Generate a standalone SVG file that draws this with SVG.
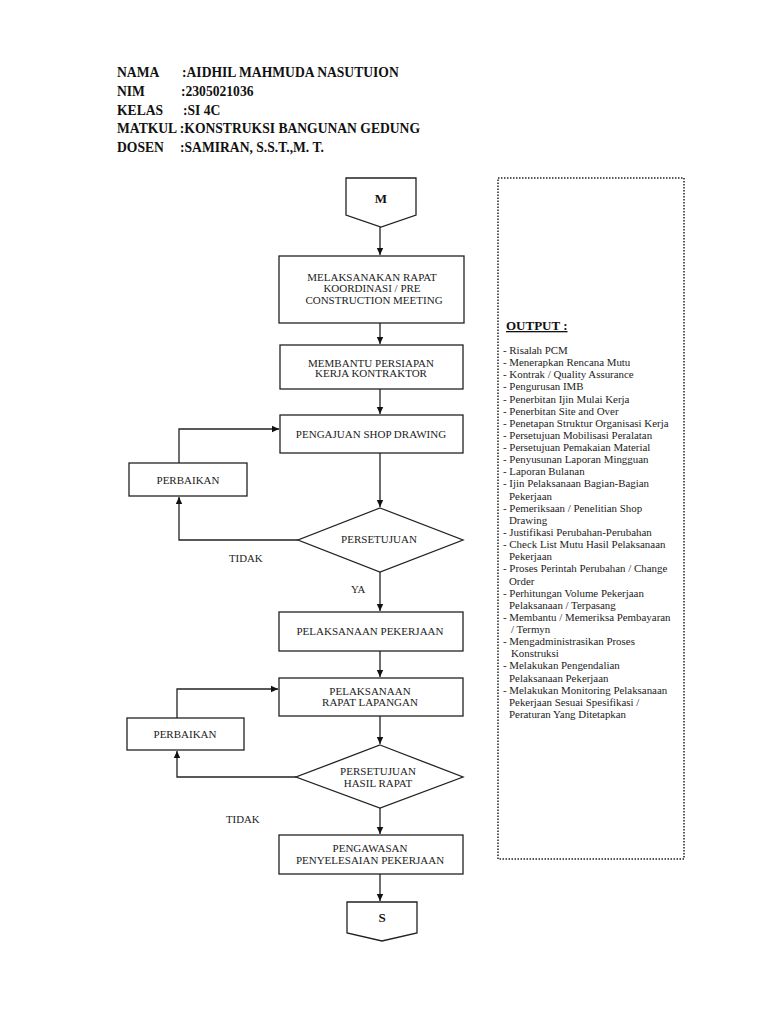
<svg xmlns="http://www.w3.org/2000/svg" width="768" height="1024" viewBox="0 0 768 1024">
<defs>
<marker id="ah" markerWidth="8" markerHeight="8" refX="7" refY="4" orient="auto" markerUnits="userSpaceOnUse">
<path d="M0,0.8 L7,4 L0,7.2 Z" fill="#111"/>
</marker>
<style>
.hd{font-family:"Liberation Serif",serif;font-weight:bold;font-size:13.6px;fill:#111}
.t{font-family:"Liberation Serif",serif;font-size:11px;fill:#222;text-anchor:middle}
.b{font-family:"Liberation Serif",serif;font-weight:bold;font-size:13px;fill:#111;text-anchor:middle}
.shape{fill:#fff;stroke:#222;stroke-width:1.3}
.con{fill:none;stroke:#222;stroke-width:1.3;marker-end:url(#ah)}
.lbl{font-family:"Liberation Serif",serif;font-size:10.8px;fill:#222}
.out{font-family:"Liberation Serif",serif;font-size:10.9px;fill:#222}
</style>
</defs>
<rect width="768" height="1024" fill="#fff"/>
<g id="header">
<text class="hd" x="117" y="77">NAMA</text><text class="hd" x="182" y="77">:AIDHIL MAHMUDA NASUTUION</text>
<text class="hd" x="117" y="96">NIM</text><text class="hd" x="181" y="96">:2305021036</text>
<text class="hd" x="117" y="115">KELAS</text><text class="hd" x="183" y="115">:SI 4C</text>
<text class="hd" x="117" y="133">MATKUL :KONSTRUKSI BANGUNAN GEDUNG</text>
<text class="hd" x="117" y="152">DOSEN</text><text class="hd" x="180" y="152">:SAMIRAN, S.S.T.,M. T.</text>
</g>
<g id="connectors">
<path class="con" d="M380,227 V255"/>
<path class="con" d="M380,323 V344"/>
<path class="con" d="M380,389 V414"/>
<path class="con" d="M380,453 V507"/>
<path class="con" d="M179,463 V429 H279"/>
<path class="con" d="M298,540 H179 V497"/>
<path class="con" d="M380,572 V611"/>
<path class="con" d="M380,651 V677"/>
<path class="con" d="M380,716 V744"/>
<path class="con" d="M177,718 V689 H278"/>
<path class="con" d="M296,777 H177 V751"/>
<path class="con" d="M380,808 V834"/>
<path class="con" d="M380,874 V901"/>
<text class="lbl" x="229" y="562">TIDAK</text>
<text class="lbl" x="351" y="593">YA</text>
<text class="lbl" x="226" y="823">TIDAK</text>
</g>
<g id="nodeM"><path class="shape" d="M346,178 H416 V215 L381,227 L346,215 Z"/><text class="b" x="381" y="203">M</text></g>
<g id="node1"><rect class="shape" x="279" y="256" width="185" height="67"/>
<text class="t" x="372" y="281">MELAKSANAKAN  RAPAT</text><text class="t" x="372" y="292">KOORDINASI / PRE</text><text class="t" x="374" y="304">CONSTRUCTION MEETING</text></g>
<g id="node2"><rect class="shape" x="280" y="345" width="183" height="44"/>
<text class="t" x="371" y="367">MEMBANTU PERSIAPAN</text><text class="t" x="371" y="377">KERJA KONTRAKTOR</text></g>
<g id="node3"><rect class="shape" x="280" y="415" width="183" height="38"/>
<text class="t" x="371" y="438">PENGAJUAN SHOP DRAWING</text></g>
<g id="perbaikan1"><rect class="shape" x="129" y="463" width="118" height="33"/>
<text class="t" x="188" y="484">PERBAIKAN</text></g>
<g id="decision1"><path class="shape" d="M380,508 L463,540 L380,572 L298,540 Z"/>
<text class="t" x="379" y="543">PERSETUJUAN</text></g>
<g id="node4"><rect class="shape" x="279" y="612" width="184" height="39"/>
<text class="t" x="370" y="635">PELAKSANAAN PEKERJAAN</text></g>
<g id="node5"><rect class="shape" x="279" y="678" width="184" height="38"/>
<text class="t" x="370" y="695">PELAKSANAAN</text><text class="t" x="370" y="706">RAPAT LAPANGAN</text></g>
<g id="perbaikan2"><rect class="shape" x="127" y="718" width="117" height="32"/>
<text class="t" x="185" y="738">PERBAIKAN</text></g>
<g id="decision2"><path class="shape" d="M380,745 L463,777 L380,808 L296,777 Z"/>
<text class="t" x="378" y="775">PERSETUJUAN</text><text class="t" x="378" y="787">HASIL RAPAT</text></g>
<g id="node6"><rect class="shape" x="279" y="835" width="184" height="39"/>
<text class="t" x="370" y="852">PENGAWASAN</text><text class="t" x="370" y="864">PENYELESAIAN PEKERJAAN</text></g>
<g id="nodeS"><path class="shape" d="M347,902 H417 V933 L382,941 L347,933 Z"/><text class="b" x="382" y="922">S</text></g>
<g id="output">
<rect x="498" y="178" width="186" height="681" fill="none" stroke="#222" stroke-width="1.5" stroke-dasharray="1.5,1.5"/>
<text x="506" y="330" font-family="Liberation Serif,serif" font-weight="bold" font-size="13" text-decoration="underline" fill="#111">OUTPUT :</text>
<g class="out">
<text x="503" y="354">- Risalah PCM</text>
<text x="503" y="366.1">- Menerapkan Rencana Mutu</text>
<text x="503" y="378.3">- Kontrak / Quality Assurance</text>
<text x="503" y="390.4">- Pengurusan IMB</text>
<text x="503" y="402.5">- Penerbitan Ijin Mulai Kerja</text>
<text x="503" y="414.7">- Penerbitan Site and Over</text>
<text x="503" y="426.8">- Penetapan Struktur Organisasi Kerja</text>
<text x="503" y="438.9">- Persetujuan Mobilisasi Peralatan</text>
<text x="503" y="451">- Persetujuan Pemakaian Material</text>
<text x="503" y="463.2">- Penyusunan Laporan Mingguan</text>
<text x="503" y="475.3">- Laporan Bulanan</text>
<text x="503" y="487.4">- Ijin Pelaksanaan Bagian-Bagian</text>
<text x="509" y="499.6">Pekerjaan</text>
<text x="503" y="511.7">- Pemeriksaan / Penelitian Shop</text>
<text x="509" y="523.8">Drawing</text>
<text x="503" y="536">- Justifikasi Perubahan-Perubahan</text>
<text x="503" y="548.1">- Check List Mutu Hasil Pelaksanaan</text>
<text x="509" y="560.2">Pekerjaan</text>
<text x="503" y="572.4">- Proses Perintah Perubahan / Change</text>
<text x="509" y="584.5">Order</text>
<text x="503" y="596.6">- Perhitungan Volume Pekerjaan</text>
<text x="509" y="608.8">Pelaksanaan / Terpasang</text>
<text x="503" y="620.9">- Membantu / Memeriksa Pembayaran</text>
<text x="511" y="633">/ Termyn</text>
<text x="503" y="645.2">- Mengadministrasikan Proses</text>
<text x="511" y="657.3">Konstruksi</text>
<text x="503" y="669.4">- Melakukan Pengendalian</text>
<text x="509" y="681.6">Pelaksanaan Pekerjaan</text>
<text x="503" y="693.7">- Melakukan Monitoring Pelaksanaan</text>
<text x="509" y="705.8">Pekerjaan Sesuai Spesifikasi /</text>
<text x="509" y="718">Peraturan Yang Ditetapkan</text>
</g>
</g>
</svg>
